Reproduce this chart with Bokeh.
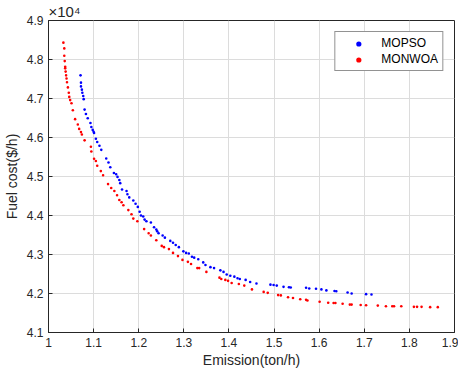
from bokeh.plotting import figure
from bokeh.models import (FixedTicker, Legend, LegendItem,
                          Range1d, ColumnDataSource)
from bokeh.embed import file_html
from bokeh.resources import INLINE

# ---- data ----
mopso_emission = [1.071, 1.072, 1.072, 1.074, 1.075, 1.077, 1.078, 1.080, 1.083, 1.087,
                  1.093, 1.095, 1.098, 1.100, 1.101, 1.105, 1.108, 1.113, 1.117, 1.128,
                  1.133, 1.137, 1.145, 1.150, 1.153, 1.157, 1.159, 1.163, 1.173, 1.175,
                  1.179, 1.188, 1.193, 1.198, 1.202, 1.205, 1.210, 1.213, 1.217, 1.227,
                  1.234, 1.239, 1.241, 1.244, 1.253, 1.258, 1.270, 1.276, 1.282, 1.289,
                  1.299, 1.305, 1.311, 1.318, 1.323, 1.332, 1.343, 1.348, 1.359, 1.367,
                  1.381, 1.388, 1.395, 1.403, 1.412, 1.419, 1.424, 1.437, 1.447, 1.461,
                  1.492, 1.499, 1.506, 1.521, 1.533, 1.537, 1.571, 1.578, 1.593, 1.605,
                  1.616, 1.634, 1.638, 1.663, 1.672, 1.704, 1.716]
mopso_cost = [47593, 47407, 47310, 47227, 47146, 47066, 46983, 46715, 46603, 46495,
              46373, 46270, 46195, 46146, 46114, 45967, 45886, 45788, 45683, 45463,
              45358, 45236, 45090, 45056, 44990, 44910, 44829, 44666, 44627, 44545,
              44464, 44383, 44300, 44220, 44098, 44000, 43976, 43895, 43854, 43821,
              43699, 43639, 43593, 43544, 43488, 43432, 43349, 43300, 43244, 43188,
              43081, 43041, 43024, 42944, 42919, 42878, 42797, 42732, 42676, 42651,
              42593, 42554, 42488, 42456, 42432, 42390, 42373, 42349, 42293, 42256,
              42227, 42220, 42202, 42171, 42161, 42154, 42146, 42129, 42122, 42105,
              42080, 42066, 42056, 42024, 42000, 41983, 41976]

monwoa_emission = [1.033, 1.035, 1.035, 1.036, 1.037, 1.037, 1.038, 1.039, 1.040, 1.041,
                   1.043, 1.045, 1.046, 1.048, 1.051, 1.054, 1.059, 1.065, 1.068, 1.072,
                   1.074, 1.080, 1.094, 1.095, 1.101, 1.105, 1.108, 1.116, 1.121, 1.132,
                   1.139, 1.146, 1.152, 1.157, 1.162, 1.166, 1.177, 1.184, 1.188, 1.197,
                   1.212, 1.222, 1.227, 1.239, 1.251, 1.256, 1.267, 1.276, 1.287, 1.297,
                   1.309, 1.316, 1.330, 1.334, 1.350, 1.379, 1.383, 1.392, 1.398, 1.406,
                   1.422, 1.434, 1.451, 1.477, 1.486, 1.509, 1.515, 1.531, 1.542, 1.558,
                   1.571, 1.574, 1.601, 1.620, 1.632, 1.636, 1.652, 1.668, 1.672, 1.692,
                   1.704, 1.730, 1.748, 1.762, 1.766, 1.782, 1.810, 1.817, 1.827, 1.846,
                   1.863]
monwoa_cost = [48432, 48285, 48097, 47959, 47812, 47773, 47690, 47593, 47512, 47415,
               47285, 47146, 47041, 46959, 46878, 46700, 46471, 46334, 46220, 46138,
               46078, 45927, 45764, 45642, 45456, 45398, 45276, 45139, 45032, 44805,
               44707, 44627, 44520, 44398, 44341, 44261, 44139, 44032, 43920, 43854,
               43651, 43544, 43488, 43366, 43220, 43188, 43139, 43041, 42959, 42861,
               42812, 42756, 42651, 42651, 42554, 42407, 42373, 42349, 42324, 42268,
               42244, 42202, 42105, 42041, 42017, 41959, 41951, 41902, 41885, 41854,
               41837, 41822, 41788, 41763, 41756, 41756, 41739, 41715, 41715, 41707,
               41700, 41690, 41673, 41673, 41673, 41673, 41658, 41658, 41658, 41650,
               41650]

x_ticks = [1.0, 1.1, 1.2, 1.3, 1.4, 1.5, 1.6, 1.7, 1.8, 1.9]
x_tick_labels = ["1", "1.1", "1.2", "1.3", "1.4", "1.5", "1.6", "1.7", "1.8", "1.9"]
y_ticks = [41000, 42000, 43000, 44000, 45000, 46000, 47000, 48000, 49000]
y_tick_labels = ["4.1", "4.2", "4.3", "4.4", "4.5", "4.6", "4.7", "4.8", "4.9"]
y_exponent_label = "×10⁴"

series_names = ["MOPSO", "MONWOA"]
series_colors = ["#0000ff", "#ff0000"]

FONT = "Liberation Sans"
DARK = "#262626"

p = figure(width=458, height=370, output_backend="svg", toolbar_location=None,
           x_range=Range1d(x_ticks[0], x_ticks[-1]),
           y_range=Range1d(y_ticks[0], y_ticks[-1]),
           min_border_left=38, min_border_right=4, min_border_top=0,
           min_border_bottom=0)
p.background_fill_color = "white"
p.border_fill_color = "white"
p.outline_line_color = DARK
p.outline_line_width = 1

# exponent shown as a left-aligned title just above the frame
p.title.text = y_exponent_label
p.title.align = "left"
p.title.text_font = FONT
p.title.text_font_size = "15px"
p.title.text_font_style = "normal"
p.title.text_color = DARK
p.title.standoff = 1
p.title.offset = 0

# axes
for ax, ticks, labels in ((p.xaxis[0], x_ticks, x_tick_labels),
                          (p.yaxis[0], y_ticks, y_tick_labels)):
    ax.ticker = FixedTicker(ticks=ticks)
    ax.major_label_overrides = dict(zip(ticks, labels))
    ax.major_tick_in = 4
    ax.major_tick_out = 0
    ax.minor_tick_line_color = None
    ax.axis_line_color = DARK
    ax.major_tick_line_color = DARK
    ax.major_label_text_color = DARK
    ax.major_label_text_font = FONT
    ax.major_label_text_font_size = "12px"
    ax.axis_label_text_font = FONT
    ax.axis_label_text_font_size = "14px"
    ax.axis_label_text_font_style = "normal"
    ax.axis_label_text_color = DARK

p.xaxis[0].axis_label = "Emission(ton/h)"
p.yaxis[0].axis_label = "Fuel cost($/h)"
p.xaxis[0].major_label_standoff = 5
p.yaxis[0].major_label_standoff = 5
p.xaxis[0].axis_label_standoff = 2
p.yaxis[0].axis_label_standoff = 4

# grid
for g, ticks in ((p.xgrid[0], x_ticks), (p.ygrid[0], y_ticks)):
    g.ticker = FixedTicker(ticks=ticks)
    g.grid_line_color = "#dcdcdc"
    g.grid_line_width = 1

src_mopso = ColumnDataSource(dict(x=mopso_emission, y=mopso_cost))
src_monwoa = ColumnDataSource(dict(x=monwoa_emission, y=monwoa_cost))
r1 = p.scatter("x", "y", source=src_mopso, size=2.6, color=series_colors[0],
               line_width=0)
r2 = p.scatter("x", "y", source=src_monwoa, size=2.6, color=series_colors[1],
               line_width=0)

legend = Legend(items=[LegendItem(label=series_names[0], renderers=[r1]),
                       LegendItem(label=series_names[1], renderers=[r2])],
                location="top_right")
legend.margin = 11
legend.padding = 4
legend.spacing = 2
legend.glyph_width = 38
legend.glyph_height = 13
legend.label_height = 13
legend.label_standoff = 4
legend.label_text_font = FONT
legend.label_text_font_size = "12px"
legend.label_text_color = "black"
legend.border_line_color = DARK
legend.border_line_width = 1
legend.background_fill_color = "white"
legend.background_fill_alpha = 1
p.add_layout(legend)

open("out.html", "w").write(file_html(p, INLINE))
